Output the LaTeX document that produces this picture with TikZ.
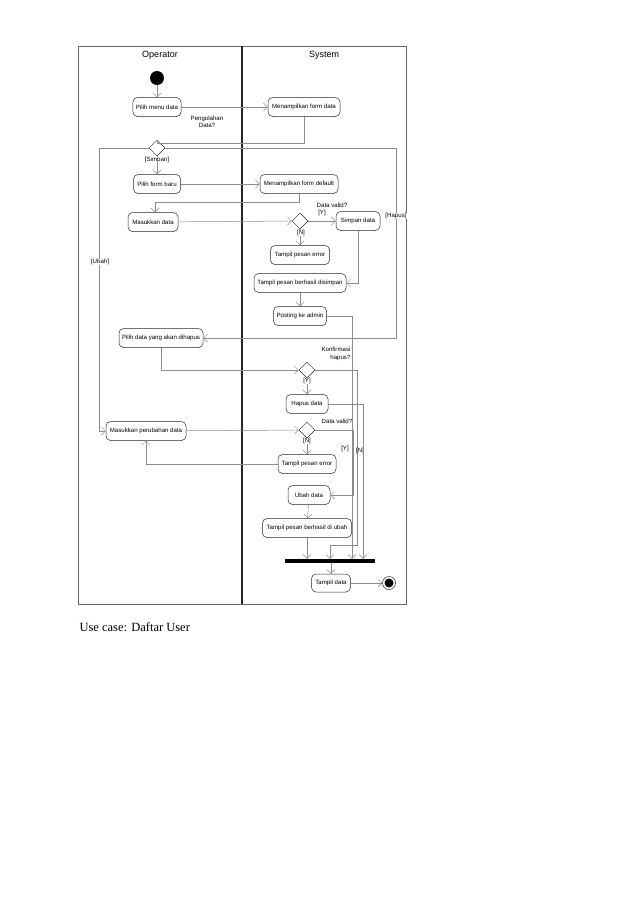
\documentclass[tikz,border=0pt]{standalone}
\usepackage{fontspec}
\setmainfont{Liberation Serif}
\newfontfamily\uifont{Liberation Sans}
\usetikzlibrary{arrows.meta,shapes.geometric,calc}

\begin{document}
\begin{tikzpicture}[x=1pt, y=-1pt, line width=0.5pt,
    every node/.style={font=\uifont\fontsize{6.1}{7.2}\selectfont},
    act/.style={draw=black!85, rounded corners=4.5pt, minimum height=19pt, inner xsep=3pt, inner ysep=1pt},
    decision/.style={draw=black!85, diamond, minimum width=16pt, minimum height=16pt, inner sep=0pt},
    flow/.style={draw=black!45, -{Straight Barb[length=4pt,width=8pt]}},
    guard/.style={fill=white, inner sep=0.5pt}]
  \useasboundingbox (0,0) rectangle (638,902);

  %---- swimlanes
  \draw[black!60] (78,46) rectangle (406,604);
  \draw[black!85, line width=1.3pt] (242,46) -- (242,604);
  \node[font=\uifont\fontsize{9}{10}\selectfont] (operator) at (160,55) {Operator};
  \node[font=\uifont\fontsize{9}{10}\selectfont] (system) at (324,55) {System};

  %---- lanes for the joins on the right
  \coordinate (lnB) at (330,0);
  \coordinate (lnA) at (352,0);
  \coordinate (lnC) at (357,0);
  \coordinate (lnD) at (363,0);
  \coordinate (rtrack) at (396,0);

  %---- operator side
  \node[circle, fill=black, minimum size=14pt, inner sep=0pt] (start) at (157,78) {};
  \node[act, minimum width=47pt] (menu) at (157,107) {Pilih menu data};
  \node[decision] (olah) at (157,148) {};
  \node[act, minimum width=47pt] (formbaru) at (157,184) {Pilih form baru};
  \node[act, minimum width=50pt] (masuk) at (153,222) {Masukkan data};
  \node[act, minimum width=84pt] (pilihhapus) at (161,338) {Pilih data yang akan dihapus};
  \node[act, minimum width=80pt] (ubahinput) at (146,431) {Masukkan perubahan data};

  %---- system side
  \node[act, minimum width=72pt] (formdata) at (304,107) {Menampilkan form data};
  \node[act, minimum width=78pt] (formdef) at (299,184) {Menampilkan form default};
  \node[decision] (valid1) at (300,221) {};
  \node[act, minimum width=44pt] (simpan) at (358,221) {Simpan data};
  \node[act, minimum width=59pt] (error1) at (300,255) {Tampil pesan error};
  \node[act, minimum width=92pt] (sukses1) at (300,283) {Tampil pesan berhasil disimpan};
  \node[act, minimum width=53pt] (posting) at (300,316) {Posting ke admin};
  \node[decision] (konfirm) at (307,370) {};
  \node[act, minimum width=42pt] (hapus) at (307,404) {Hapus data};
  \node[decision] (valid2) at (307,430) {};
  \node[act, minimum width=58pt] (error2) at (307,464) {Tampil pesan error};
  \node[act, minimum width=42pt] (ubah) at (309,495) {Ubah data};
  \node[act, minimum width=89pt] (sukses2) at (307,528) {Tampil pesan berhasil di ubah};
  \node[fill=black, minimum width=90pt, minimum height=4pt, inner sep=0pt] (join) at (330,561) {};
  \node[act, minimum width=39pt, minimum height=18pt] (tampil) at (331,583) {Tampil data};
  \node[circle, draw=black!85, minimum size=13pt, inner sep=0pt] (stop) at (389,583) {};
  \fill (stop) circle (4.5pt);

  %---- flows
  \draw[flow] (start) -- (menu);
  \draw[flow] (menu) -- (formdata);
  \draw[flow] (formdata.south) -- ++(0,26) -| (olah.north);
  \node[align=center] (olahlbl) at (207,122) {Pengolahan\\Data?};

  \draw[flow] (olah.south) -- (formbaru.north);
  \node[guard] (simpanlbl) at (157,160) {[Simpan]};
  \draw[flow] (olah.west) -| ($(ubahinput.west)+(-7,0)$) -- (ubahinput.west);
  \node[guard] (ubahlbl) at (100,262) {[Ubah]};
  \draw[flow] (olah.east) -- (olah.east -| rtrack) |- (pilihhapus.east);
  \node[guard] (hapuslbl) at (396,216) {[Hapus]};

  \draw[flow] (formbaru) -- (formdef);
  \draw[flow] (formdef.south) -- ++(0,8) -| ($(masuk.north)+(2,0)$);
  \draw[flow] (masuk) -- (valid1);
  \draw[flow] (valid1) -- (simpan);
  \node (valid1lbl) at (332,205) {Data valid?};
  \node (y1lbl) at (322,213) {[Y]};
  \draw[flow] (valid1.south) -- (error1.north);
  \node[guard] (n1lbl) at (301,233) {[N]};
  \draw[flow] (simpan.south) |- (sukses1.east);
  \draw[flow] (sukses1) -- (posting);
  \draw[flow] (posting.east) -| (join.north -| lnA);

  \draw[flow] (pilihhapus.south) |- (konfirm.west);
  \node[align=right] (konfirmlbl) at (336,354) {Konfirmasi\\hapus?};
  \draw[flow] (konfirm.south) -- (hapus.north);
  \node[guard] (y2lbl) at (307,381) {[Y]};
  \draw[flow] (konfirm.east) -| (357,545) -| (join.north -| lnB);
  \node (n2lbl) at (360,451) {[N]};
  \draw[flow] (hapus.east) -| (join.north -| lnD);

  \draw[flow] (ubahinput) -- (valid2);
  \node (valid2lbl) at (337,421) {Data valid?};
  \draw[flow] (valid2.south) -- (error2.north);
  \node[guard] (n3lbl) at (307,441) {[N]};
  \draw[flow] (valid2.east) -- ++(38,0) |- (ubah.east);
  \node[guard] (y3lbl) at (345,449) {[Y]};
  \draw[flow] (error2.west) -| (ubahinput.south);
  \draw[flow] (ubah) -- (sukses2);
  \draw[flow] (sukses2.south) -- (sukses2.south |- join.north);
  \draw[flow] (join.south -| tampil.north) -- (tampil.north);
  \draw[flow] (tampil) -- (stop);

  %---- caption
  \node[anchor=west, font=\rmfamily\fontsize{12.5}{14}\selectfont] (caption) at (76,627) {Use case: Daftar User};
\end{tikzpicture}
\end{document}
